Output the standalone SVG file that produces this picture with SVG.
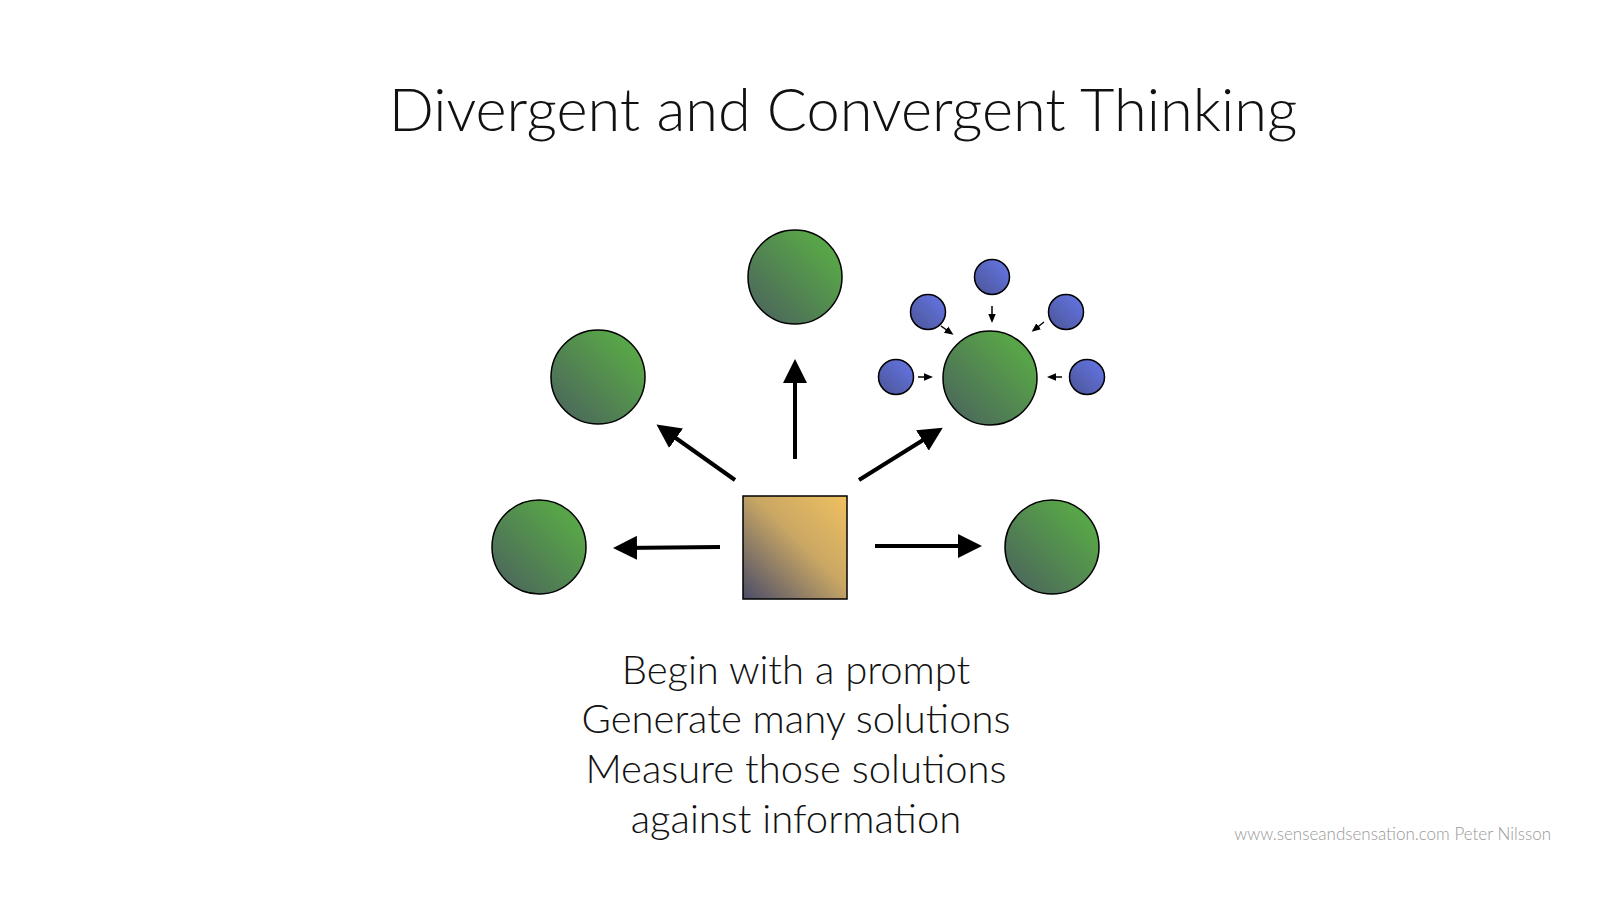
<svg xmlns="http://www.w3.org/2000/svg" width="1600" height="903" viewBox="0 0 1600 903">
<style>
text{font-family:Lato,"Liberation Sans",sans-serif;font-weight:300;fill:#111}
.g{fill:url(#gg);stroke:#000;stroke-width:1.5}
.b{fill:url(#bg);stroke:#000;stroke-width:1.5}
.big{stroke:#000;stroke-width:4;marker-end:url(#ah)}
.sm{stroke:#000;stroke-width:1.5;marker-end:url(#sa)}
</style>
<defs>
<linearGradient id="gg" x1="1" y1="0" x2="0" y2="1"><stop offset="0.2" stop-color="#58a448"/><stop offset="1" stop-color="#4a5f5e"/></linearGradient>
<linearGradient id="bg" x1="1" y1="0" x2="0" y2="1"><stop offset="0.2" stop-color="#6070d8"/><stop offset="1" stop-color="#4b5595"/></linearGradient>
<linearGradient id="sq" x1="1" y1="0" x2="0" y2="1"><stop offset="0" stop-color="#f0c060"/><stop offset="0.45" stop-color="#c9a764"/><stop offset="1" stop-color="#4a4c68"/></linearGradient>
<marker id="ah" markerWidth="6" markerHeight="6" refX="4" refY="3" orient="auto" markerUnits="strokeWidth"><path d="M0,0 L6,3 L0,6 z"/></marker>
<marker id="sa" markerWidth="6" markerHeight="6" refX="4" refY="3" orient="auto" markerUnits="strokeWidth"><path d="M0,0.5 L6,3 L0,5.5 z"/></marker>
</defs>
<rect width="1600" height="903" fill="#fff"/>
<text x="843" y="131" font-size="59.5" text-anchor="middle">Divergent and Convergent Thinking</text>
<g id="connectors">
<line class="big" x1="720" y1="547" x2="621" y2="548"/>
<line class="big" x1="875" y1="546" x2="974" y2="546"/>
<line class="big" x1="795" y1="459" x2="795" y2="367"/>
<line class="big" x1="735" y1="480" x2="663" y2="429"/>
<line class="big" x1="859" y1="480" x2="936" y2="432"/>
<line class="sm" x1="992" y1="306" x2="992" y2="320"/>
<line class="sm" x1="941" y1="326" x2="951" y2="333"/>
<line class="sm" x1="1044" y1="322" x2="1034" y2="330"/>
<line class="sm" x1="918" y1="377" x2="930" y2="377"/>
<line class="sm" x1="1062" y1="377" x2="1050" y2="377"/>
</g>
<g id="prompt"><rect x="743" y="496" width="104" height="103" fill="url(#sq)" stroke="#000" stroke-width="1.5"/></g>
<g id="sol-top"><circle class="g" cx="795" cy="277" r="47"/></g>
<g id="sol-upleft"><circle class="g" cx="598" cy="377" r="47"/></g>
<g id="sol-upright"><circle class="g" cx="990" cy="378" r="47"/></g>
<g id="sol-left"><circle class="g" cx="539" cy="547" r="47"/></g>
<g id="sol-right"><circle class="g" cx="1052" cy="547" r="47"/></g>
<g id="info1"><circle class="b" cx="992" cy="277" r="17.5"/></g>
<g id="info2"><circle class="b" cx="928" cy="312" r="17.5"/></g>
<g id="info3"><circle class="b" cx="1066" cy="312" r="17.5"/></g>
<g id="info4"><circle class="b" cx="896" cy="377" r="17.5"/></g>
<g id="info5"><circle class="b" cx="1087" cy="377" r="17.5"/></g>
<g font-size="40" text-anchor="middle">
<text x="796" y="684">Begin with a prompt</text>
<text x="796" y="733">Generate many solutions</text>
<text x="796" y="783">Measure those solutions</text>
<text x="796" y="833">against information</text>
</g>
<text x="1551" y="840" font-size="17" text-anchor="end" style="fill:#999">www.senseandsensation.com  Peter Nilsson</text>
</svg>
